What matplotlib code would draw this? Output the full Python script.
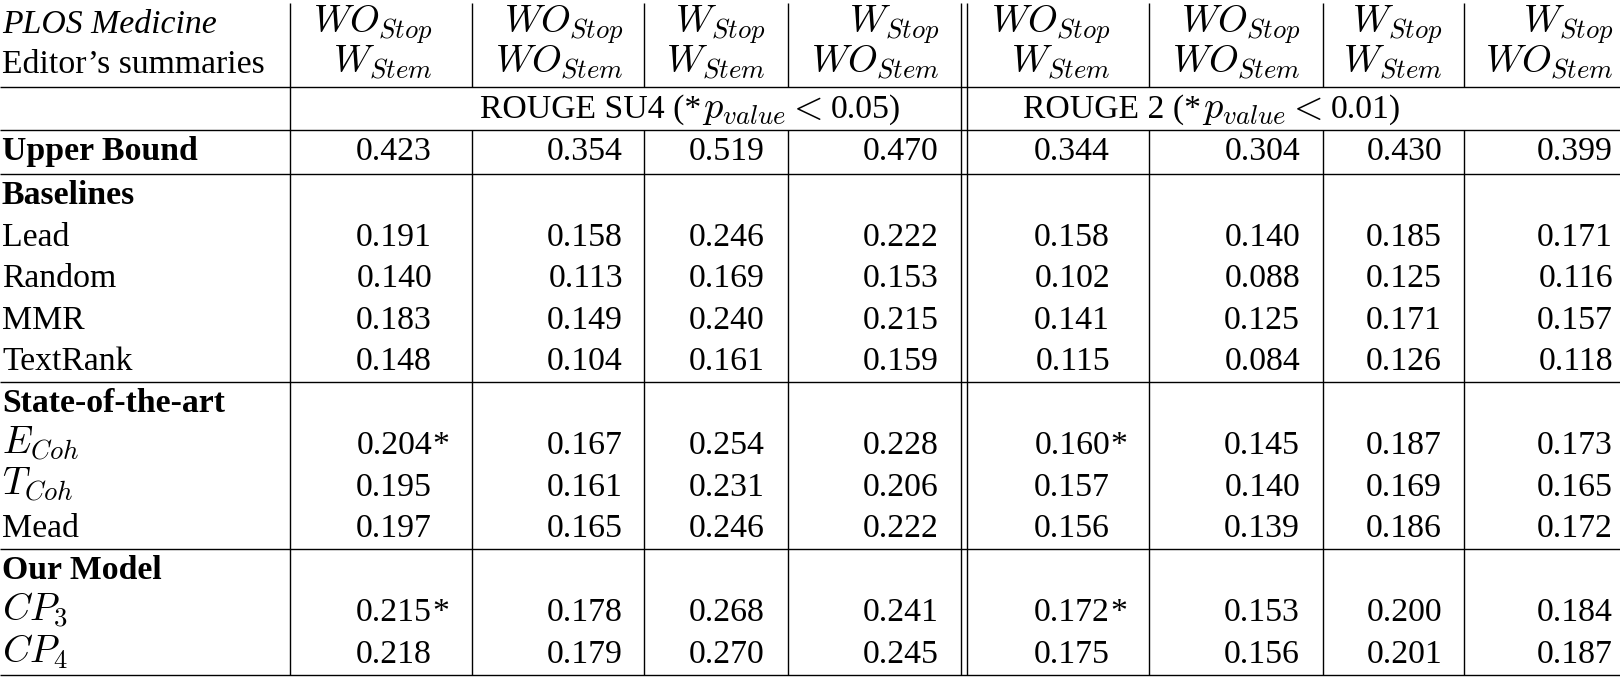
import matplotlib
matplotlib.use("Agg")
import matplotlib.pyplot as plt

# ---------------- data ----------------
header_top = ["$WO_{Stop}$", "$WO_{Stop}$", "$W_{Stop}$", "$W_{Stop}$",
              "$WO_{Stop}$", "$WO_{Stop}$", "$W_{Stop}$", "$W_{Stop}$"]
header_bot = ["$W_{Stem}$", "$WO_{Stem}$", "$W_{Stem}$", "$WO_{Stem}$",
              "$W_{Stem}$", "$WO_{Stem}$", "$W_{Stem}$", "$WO_{Stem}$"]
metric_names = ["ROUGE SU4", "ROUGE 2"]
metric_pvals = ["0.05", "0.01"]

upper_bound = [0.423, 0.354, 0.519, 0.470, 0.344, 0.304, 0.430, 0.399]
lead = [0.191, 0.158, 0.246, 0.222, 0.158, 0.140, 0.185, 0.171]
random_ = [0.140, 0.113, 0.169, 0.153, 0.102, 0.088, 0.125, 0.116]
mmr = [0.183, 0.149, 0.240, 0.215, 0.141, 0.125, 0.171, 0.157]
textrank = [0.148, 0.104, 0.161, 0.159, 0.115, 0.084, 0.126, 0.118]
e_coh = [0.204, 0.167, 0.254, 0.228, 0.160, 0.145, 0.187, 0.173]
t_coh = [0.195, 0.161, 0.231, 0.206, 0.157, 0.140, 0.169, 0.165]
mead = [0.197, 0.165, 0.246, 0.222, 0.156, 0.139, 0.186, 0.172]
cp3 = [0.215, 0.178, 0.268, 0.241, 0.172, 0.153, 0.200, 0.184]
cp4 = [0.218, 0.179, 0.270, 0.245, 0.175, 0.156, 0.201, 0.187]

e_coh_star = [0, 4]
cp3_star = [0, 4]

# rows: (label, kind, values, star columns)
rows = [
    ("Upper Bound", "bold", upper_bound, []),
    ("Baselines", "bold", None, []),
    ("Lead", "normal", lead, []),
    ("Random", "normal", random_, []),
    ("MMR", "normal", mmr, []),
    ("TextRank", "normal", textrank, []),
    ("State-of-the-art", "bold", None, []),
    ("$E_{Coh}$", "math", e_coh, e_coh_star),
    ("$T_{Coh}$", "math", t_coh, []),
    ("Mead", "normal", mead, []),
    ("Our Model", "bold", None, []),
    ("$CP_3$", "math", cp3, cp3_star),
    ("$CP_4$", "math", cp4, []),
]

# ---------------- layout ----------------
W, H = 1620, 679
plt.rcParams["mathtext.fontset"] = "cm"
plt.rcParams["font.family"] = ["Liberation Serif", "DejaVu Serif"]
FS = 24.3
MFS = 27.5

fig = plt.figure(figsize=(W / 100, H / 100), dpi=100)
ax = fig.add_axes([0, 0, 1, 1])
ax.set_xlim(0, W)
ax.set_ylim(H, 0)
ax.axis("off")
renderer = fig.canvas.get_renderer()

col_right = [432, 623, 765, 939, 1110, 1300, 1442, 1613]
vlines_full = [290, 961, 967]
vlines_part = [472, 644, 788, 1149, 1323, 1464]
hlines = [87, 130, 174, 382, 549, 675]
row_base = [160, 204, 245.6, 287.2, 328.8, 370.4, 412, 453.8, 495.5,
            537.3, 579, 621, 663]

lw = 1.0
for x in vlines_full:
    ax.plot([x, x], [3, 675], color="black", lw=lw, solid_capstyle="butt")
for x in vlines_part:
    ax.plot([x, x], [3, 87], color="black", lw=lw, solid_capstyle="butt")
    ax.plot([x, x], [130, 675], color="black", lw=lw, solid_capstyle="butt")
for y in hlines:
    ax.plot([0, W], [y, y], color="black", lw=lw, solid_capstyle="butt")

# header
ax.text(2, 33, "PLOS Medicine", fontsize=FS, style="italic",
        ha="left", va="baseline")
ax.text(2, 73, "Editor\u2019s summaries", fontsize=FS,
        ha="left", va="baseline")
for j in range(8):
    ax.text(col_right[j], 33, header_top[j], fontsize=MFS,
            ha="right", va="baseline")
    ax.text(col_right[j], 73, header_bot[j], fontsize=MFS,
            ha="right", va="baseline")


def seq_text(x, y, parts):
    for s, size, gap in parts:
        t = ax.text(x, y, s, fontsize=size, ha="left", va="baseline")
        x += t.get_window_extent(renderer).width + gap
    return x


for name, pv, x0 in zip(metric_names, metric_pvals, [480, 1023]):
    seq_text(x0, 118, [(name + " (*", FS, 1),
                       ("$p_{value}$", MFS, 1),
                       ("$<$", MFS, 8),
                       (pv + ")", FS, 0)])

# body
for (label, kind, vals, stars), yb in zip(rows, row_base):
    ax.text(2, yb, label, fontsize=MFS if kind == "math" else FS,
            fontweight="bold" if kind == "bold" else "normal",
            ha="left", va="baseline")
    if vals is None:
        continue
    for j, v in enumerate(vals):
        ax.text(col_right[j], yb, f"{v:.3f}", fontsize=FS,
                ha="right", va="baseline")
        if j in stars:
            ax.text(col_right[j] + 0.5, yb, "*", fontsize=FS,
                    ha="left", va="baseline")

fig.savefig("out.png", dpi=100, facecolor="white")
